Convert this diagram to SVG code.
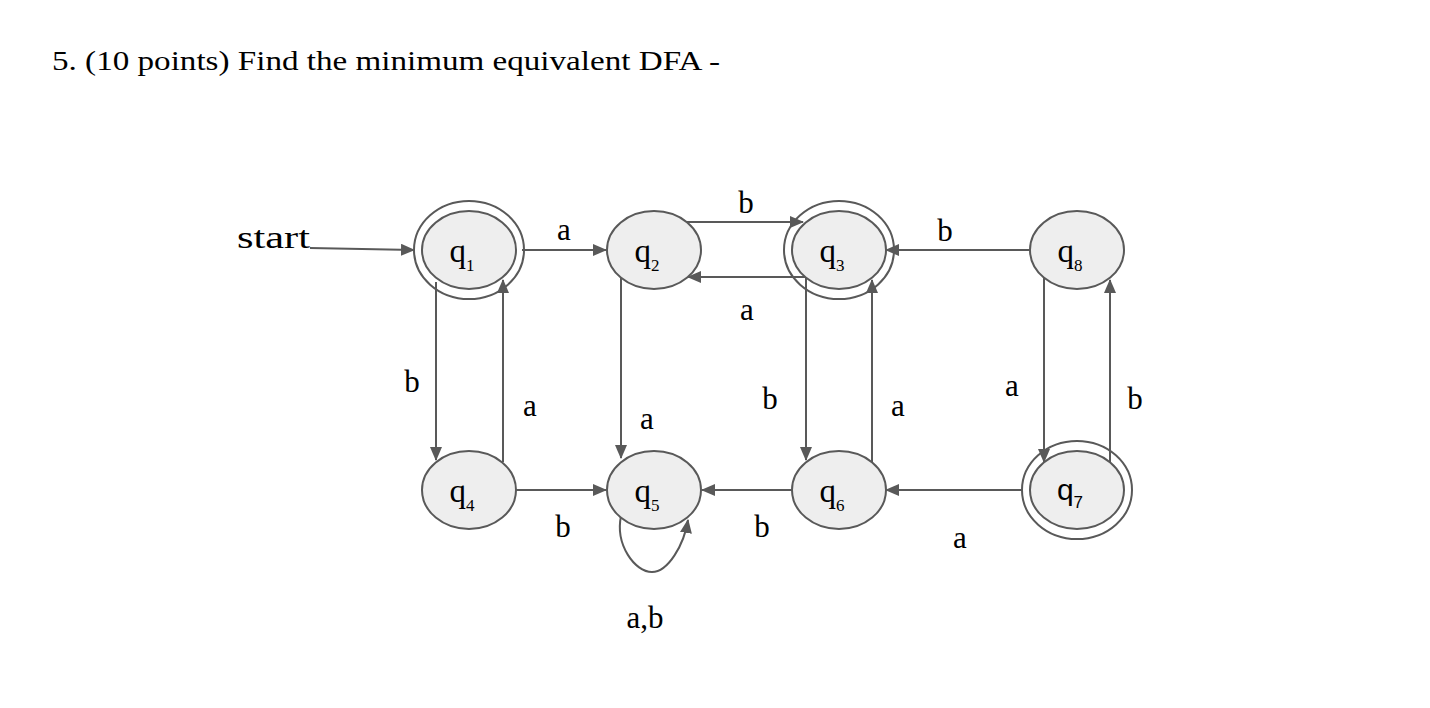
<svg xmlns="http://www.w3.org/2000/svg" width="1430" height="708" viewBox="0 0 1430 708">
<style>
.n{fill:#eeeeee;stroke:#595959;stroke-width:2}
.r{fill:none;stroke:#595959;stroke-width:2}
.e{fill:none;stroke:#595959;stroke-width:2;marker-end:url(#ah)}
text{font-family:"Liberation Serif","DejaVu Serif",serif;font-size:31px;fill:#000}
.q{font-size:33px;text-anchor:middle}
.s{font-size:17px}
.l{text-anchor:middle}
</style>
<defs><marker id="ah" viewBox="0 0 14 12" refX="13" refY="6" markerWidth="14" markerHeight="12" orient="auto" markerUnits="userSpaceOnUse"><path d="M0,0L14,6L0,12z" fill="#595959"/></marker></defs>
<rect width="1430" height="708" fill="#fff"/>
<text x="52" y="70" style="font-size:27px" textLength="668" lengthAdjust="spacingAndGlyphs">5. (10 points) Find the minimum equivalent DFA -</text>
<g id="edges">
<path class="e" d="M310,248L414,250"/>
<path class="e" d="M522,250L606,250"/>
<path class="e" d="M686,222L803,222"/>
<path class="e" d="M806,277L688,277"/>
<path class="e" d="M1030,250L886,250"/>
<path class="e" d="M436,282L436,460"/>
<path class="e" d="M503,462L503,280"/>
<path class="e" d="M621,275L621,458"/>
<path class="e" d="M806,278L806,460"/>
<path class="e" d="M872,463L872,280"/>
<path class="e" d="M1044,275L1044,462"/>
<path class="e" d="M1110,465L1110,280"/>
<path class="e" d="M516,490L606,490"/>
<path class="e" d="M792,490L702,490"/>
<path class="e" d="M1022,490L886,490"/>
<path class="e" d="M621,516C615,545 635,572 652,572C668,572 684,545 688,520"/>
</g>
<g id="labels">
<text x="237" y="248" textLength="73" lengthAdjust="spacingAndGlyphs">start</text>
<text class="l" x="564" y="240">a</text>
<text class="l" x="746" y="213">b</text>
<text class="l" x="747" y="320">a</text>
<text class="l" x="945" y="241">b</text>
<text class="l" x="412" y="392">b</text>
<text class="l" x="530" y="416">a</text>
<text class="l" x="647" y="429">a</text>
<text class="l" x="770" y="409">b</text>
<text class="l" x="898" y="416">a</text>
<text class="l" x="1012" y="396">a</text>
<text class="l" x="1135" y="409">b</text>
<text class="l" x="563" y="537">b</text>
<text class="l" x="762" y="537">b</text>
<text class="l" x="960" y="548">a</text>
<text class="l" x="645" y="628">a,b</text>
</g>
<g id="q1"><ellipse class="r" cx="469" cy="250" rx="55" ry="49"/><ellipse class="n" cx="469" cy="250" rx="47" ry="39"/><text class="q" x="462" y="262">q<tspan class="s" dy="9">1</tspan></text></g>
<g id="q2"><ellipse class="n" cx="654" cy="250" rx="47" ry="39"/><text class="q" x="647" y="262">q<tspan class="s" dy="9">2</tspan></text></g>
<g id="q3"><ellipse class="r" cx="839" cy="250" rx="55" ry="49"/><ellipse class="n" cx="839" cy="250" rx="47" ry="39"/><text class="q" x="832" y="262">q<tspan class="s" dy="9">3</tspan></text></g>
<g id="q8"><ellipse class="n" cx="1077" cy="250" rx="47" ry="39"/><text class="q" x="1070" y="262">q<tspan class="s" dy="9">8</tspan></text></g>
<g id="q4"><ellipse class="n" cx="469" cy="490" rx="47" ry="39"/><text class="q" x="462" y="502">q<tspan class="s" dy="9">4</tspan></text></g>
<g id="q5"><ellipse class="n" cx="654" cy="490" rx="47" ry="39"/><text class="q" x="647" y="502">q<tspan class="s" dy="9">5</tspan></text></g>
<g id="q6"><ellipse class="n" cx="839" cy="490" rx="47" ry="39"/><text class="q" x="832" y="502">q<tspan class="s" dy="9">6</tspan></text></g>
<g id="q7"><ellipse class="r" cx="1077" cy="490" rx="55" ry="49"/><ellipse class="n" cx="1077" cy="490" rx="47" ry="39"/><text class="q" x="1070" y="500" style="font-family:'Liberation Sans',sans-serif;font-size:30px">q<tspan class="s" dy="8" style="font-family:'Liberation Sans',sans-serif">7</tspan></text></g>
</svg>
